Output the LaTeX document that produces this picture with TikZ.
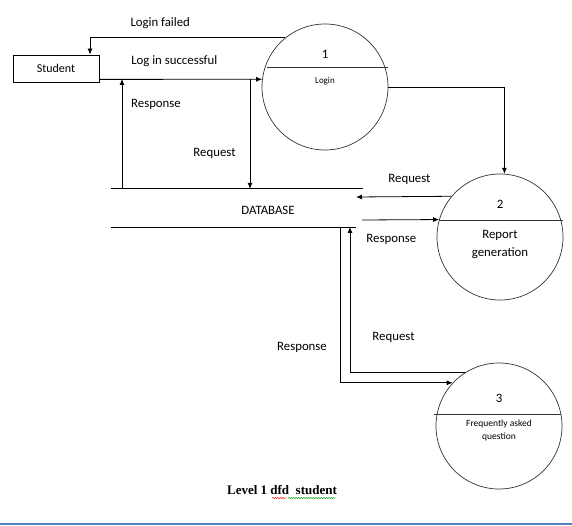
\documentclass[tikz,border=0pt]{standalone}
\usepackage{fontspec}
\setmainfont{Carlito}
\newfontfamily\capfont{Liberation Serif}
\usetikzlibrary{shapes,arrows,arrows.meta,positioning,decorations.pathmorphing}
\definecolor{rulecol}{RGB}{79,129,189}
\tikzset{
    flowedge/.style   = {black, -{Latex[length=6pt,width=5pt]}, line width=0.8pt},
    plainedge/.style  = {black, -, line width=0.8pt},
    procnode/.style   = {circle, draw=black!80, line width=0.7pt, minimum size=126pt, inner sep=0pt},
    entnode/.style    = {rectangle, draw, line width=0.8pt, minimum width=86pt, minimum height=27pt},
    storenode/.style  = {rectangle, draw=none, minimum width=252pt, minimum height=38pt},
    lbl/.style        = {draw=none, inner sep=0pt, yshift=-2pt},
    smalltext/.style  = {font=\fontsize{9.5}{13}\selectfont},
}

\begin{document}
\begin{tikzpicture}[x=1pt, y=-1pt]
        \useasboundingbox (0,0) rectangle (572,526);
        \tikzstyle{every node} = [align=center, font=\fontsize{12.8}{18}\selectfont]
        \node[entnode, font=\fontsize{12}{14}\selectfont](S) at (56,68.5){Student};
        \node[procnode](P1) at (325,87){};
        \node[procnode](P2) at (500,237){};
        \node[procnode](P3) at (499,426){};
        \node[storenode](DB) at (237,208){};

        % process labels
        \draw[plainedge, black!80] ([shift={(-58pt,20pt)}]P1.center) -- ([shift={(63pt,20pt)}]P1.center);
        \draw[plainedge, black!80] ([shift={(-61pt,17pt)}]P2.center) -- ([shift={(63pt,17pt)}]P2.center);
        \draw[plainedge, black!80] ([shift={(-65pt,12pt)}]P3.center) -- ([shift={(62pt,12pt)}]P3.center);
        \node(N1) at ([yshift=33pt]P1.center){1};
        \node[font=\fontsize{9}{11}\selectfont](T1) at ([yshift=5.5pt]P1.center){Login};
        \node(N2) at ([yshift=33pt]P2.center){2};
        \node(T2) at ([yshift=-7pt]P2.center){Report\\generation};
        \node(N3) at ([yshift=28pt]P3.center){3};
        \node[smalltext](T3) at ([yshift=-4.5pt]P3.center){Frequently asked\\question};

        % data store
        \draw[plainedge] (DB.north west) -- (DB.north east);
        \draw[plainedge] (DB.south west) -- ([xshift=-7pt]DB.south east);
        \node(DBT) at ([shift={(31pt,-2pt)}]DB.center){DATABASE};

        \coordinate (RespTop) at (122,79);
        \coordinate (ReqTop) at (250,79);
        \coordinate (DBin) at (356,197);
        \coordinate (DBout) at (362,220);
        \coordinate (DBlow) at (340,227);
        \coordinate (DBup) at (350,227);

        % flows
        \draw[flowedge] (P1.129) -| ([xshift=34pt]S.north) node[lbl, pos=0.32, yshift=17pt]{Login failed};
        \draw[flowedge] ([yshift=3pt]S.south east) -- (P1.173) node[lbl, pos=0.46, yshift=20pt]{Log in successful};
        \draw[flowedge] (DB.north west -| RespTop) -- (RespTop) node[lbl, pos=0.79, xshift=34pt]{Response};
        \draw[flowedge] (ReqTop) -- (ReqTop |- DB.north) node[lbl, pos=0.66, xshift=-35.5pt]{Request};
        \draw[flowedge] (P1.east) -| (P2.86);
        \draw[flowedge] (P2.140) -- (DBin) node[lbl, pos=0.44, yshift=19pt]{Request};
        \draw[flowedge] (DBout) -- (P2.164) node[lbl, pos=0.38, yshift=-18pt]{Response};
        \draw[flowedge] (DBlow) |- (P3.137) node[lbl, pos=0.38, xshift=-38pt]{Response};
        \draw[flowedge] (P3.123) -| (DBup) node[lbl, pos=0.63, xshift=43.5pt]{Request};

        % caption
        \node[font=\capfont\bfseries\fontsize{13}{15}\selectfont](CAP) at (282,490){Level 1 dfd\ \ student};
        \draw[red, line width=0.5pt, decorate, decoration={snake, amplitude=0.6pt, segment length=2.5pt}] (272,498) -- (286,498);
        \draw[green!60!black, line width=0.5pt, decorate, decoration={snake, amplitude=0.6pt, segment length=2.5pt}] (288,498) -- (335,498);
        \draw[rulecol, line width=1.5pt] (0,524) -- (572,524);
    \end{tikzpicture}
\end{document}
